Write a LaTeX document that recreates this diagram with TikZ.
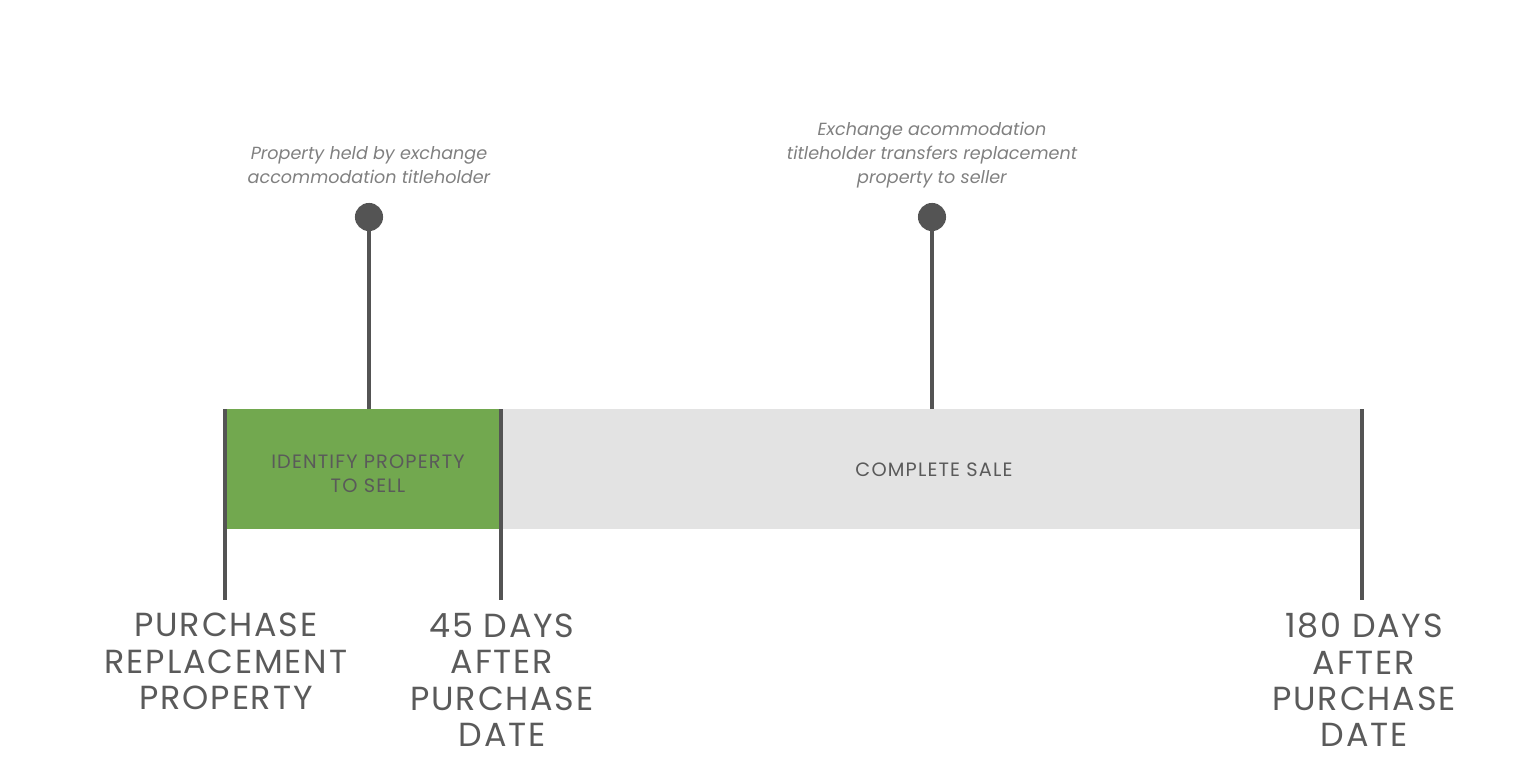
\documentclass[tikz,border=0pt]{standalone}
\usepackage{fontspec}
\setmainfont{Poppins}
\newfontfamily\bigfont[LetterSpace=5.5]{Poppins}
\newfontfamily\boxfont[LetterSpace=6]{Poppins}
\definecolor{dk}{HTML}{545454}
\definecolor{txt}{HTML}{5A5A5A}
\definecolor{itx}{HTML}{808080}
\definecolor{grn}{HTML}{72A84F}
\definecolor{gry}{HTML}{E3E3E3}
\tikzset{
  bigtxt/.style={text=txt, align=center, font=\bigfont\fontsize{19pt}{20.7pt}\selectfont, inner sep=0pt},
  smalltxt/.style={text=itx, align=center, font=\fontsize{10pt}{13.6pt}\selectfont\itshape, inner sep=0pt},
  boxtxt/.style={text=txt, align=center, font=\boxfont\fontsize{11pt}{13.6pt}\selectfont, inner sep=0pt},
  tick/.style={draw=dk, line width=2.3pt},
  stem/.style={draw=dk, line width=1.8pt},
  pin/.style={circle, fill=dk, minimum size=16pt, inner sep=0pt}
}
\begin{document}
\begin{tikzpicture}[x=0.02cm, y=-0.02cm]
\useasboundingbox (0,0) rectangle (1536,768);
\fill[grn] (225,409) rectangle (501,529);
\fill[gry] (501,409) rectangle (1362,529);
\coordinate (t1a) at (225,409); \coordinate (t1b) at (225,600);
\coordinate (t2a) at (501,409); \coordinate (t2b) at (501,600);
\coordinate (t3a) at (1362,409); \coordinate (t3b) at (1362,600);
\draw[tick] (t1a) -- (t1b);
\draw[tick] (t2a) -- (t2b);
\draw[tick] (t3a) -- (t3b);
\node[pin] (p1) at (369,217) {};
\node[pin] (p2) at (932,217) {};
\coordinate (b1) at (369,409);
\coordinate (b2) at (932,409);
\draw[stem] (p1.center) -- (b1);
\draw[stem] (p2.center) -- (b2);
\node[smalltxt, anchor=south] (l1) at (369,184) {Property held by exchange\\accommodation titleholder};
\node[smalltxt, anchor=south] (l2) at (932,188) {Exchange acommodation\\titleholder transfers replacement\\property to seller};
\node[boxtxt] (g) at (368,474) {IDENTIFY PROPERTY\\TO SELL};
\node[boxtxt] (c) at (934,470) {COMPLETE SALE};
\node[bigtxt, anchor=north] (d1) at (226,613) {PURCHASE\\REPLACEMENT\\PROPERTY};
\node[bigtxt, anchor=north] (d2) at (502,613) {45 DAYS\\AFTER\\PURCHASE\\DATE};
\node[bigtxt, anchor=north] (d3) at (1364,613) {180 DAYS\\AFTER\\PURCHASE\\DATE};
\end{tikzpicture}
\end{document}
